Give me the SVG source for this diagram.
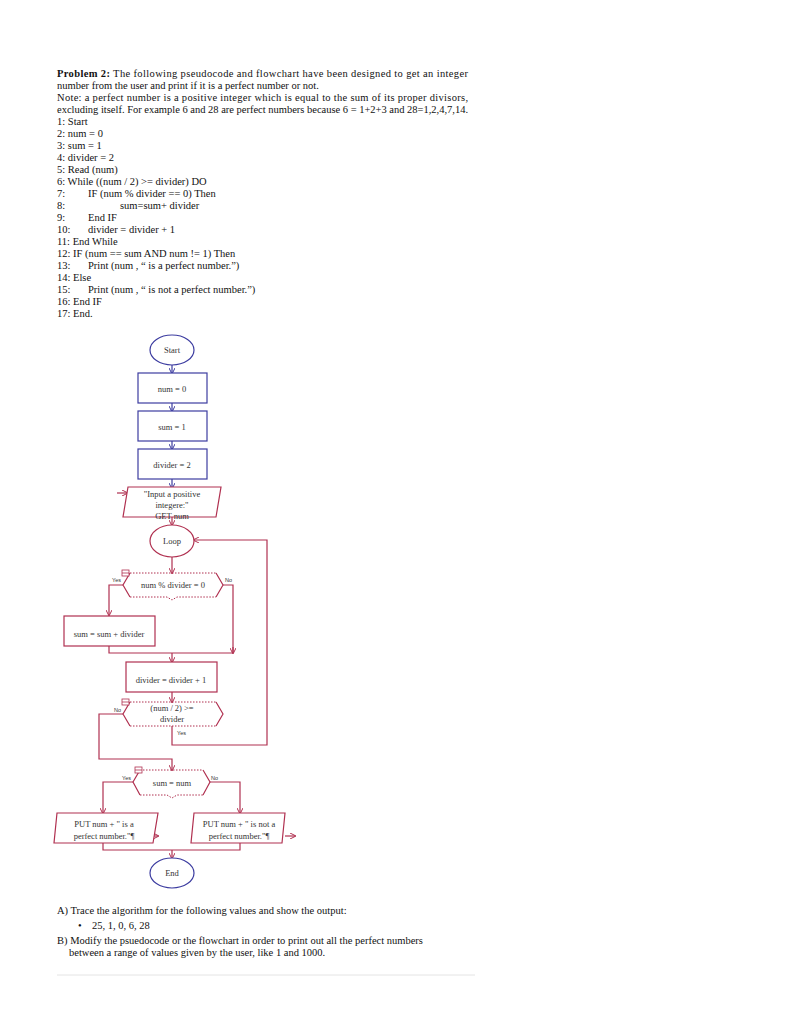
<svg xmlns="http://www.w3.org/2000/svg" width="791" height="1024" viewBox="0 0 791 1024">
<defs>
<marker id="ab" viewBox="0 0 6 6" refX="5" refY="3" markerWidth="5" markerHeight="5" orient="auto"><path d="M0,0L6,3L0,6" fill="none" stroke="#3c3ca0" stroke-width="1"/></marker>
<marker id="ar" viewBox="0 0 6 6" refX="5" refY="3" markerWidth="5" markerHeight="5" orient="auto"><path d="M0,0L6,3L0,6" fill="none" stroke="#b03050" stroke-width="1"/></marker>
</defs>
<style>
.t{font-family:"Liberation Serif",serif;font-size:10.5px;fill:#111}
.b{font-weight:bold}
.f{font-family:"Liberation Serif",serif;font-size:8.5px;fill:#333}
.s{font-family:"Liberation Sans",sans-serif;font-size:5.5px;fill:#333}
.bl{fill:#fff;stroke:#3c3ca0;stroke-width:1.2}
.rd{fill:#fff;stroke:#b03050;stroke-width:1.2}
.dt{fill:none;stroke:#b03050;stroke-width:1;stroke-dasharray:1.5,1.5}
.c{fill:none;stroke:#b03050;stroke-width:1.2}
.cb{fill:none;stroke:#3c3ca0;stroke-width:1.2}
</style>
<rect width="791" height="1024" fill="#fff"/>
<g id="text">
<text class="t" x="57" y="77" textLength="411" lengthAdjust="spacing"><tspan class="b">Problem 2:</tspan> The following pseudocode and flowchart have been designed to get an integer</text>
<text class="t" x="57" y="89">number from the user and print if it is a perfect number or not.</text>
<text class="t" x="57" y="101" textLength="411" lengthAdjust="spacing">Note: a perfect number is a positive integer which is equal to the sum of its proper divisors,</text>
<text class="t" x="57" y="113" textLength="411" lengthAdjust="spacing">excluding itself. For example 6 and 28 are perfect numbers because 6 = 1+2+3 and 28=1,2,4,7,14.</text>
<text class="t" x="57" y="125">1: Start</text>
<text class="t" x="57" y="137">2: num = 0</text>
<text class="t" x="57" y="149">3: sum = 1</text>
<text class="t" x="57" y="161">4: divider = 2</text>
<text class="t" x="57" y="173">5: Read (num)</text>
<text class="t" x="57" y="185">6: While ((num / 2) &gt;= divider) DO</text>
<text class="t" x="57" y="197">7:</text><text class="t" x="88" y="197">IF (num % divider == 0) Then</text>
<text class="t" x="57" y="209">8:</text><text class="t" x="120" y="209">sum=sum+ divider</text>
<text class="t" x="57" y="221">9:</text><text class="t" x="88" y="221">End IF</text>
<text class="t" x="57" y="233">10:</text><text class="t" x="88" y="233">divider = divider + 1</text>
<text class="t" x="57" y="245">11: End While</text>
<text class="t" x="57" y="257">12: IF (num == sum AND num != 1) Then</text>
<text class="t" x="57" y="269">13:</text><text class="t" x="88" y="269">Print (num , “ is a perfect number.”)</text>
<text class="t" x="57" y="281">14: Else</text>
<text class="t" x="57" y="293">15:</text><text class="t" x="88" y="293">Print (num , “ is not a perfect number.”)</text>
<text class="t" x="57" y="305">16: End IF</text>
<text class="t" x="57" y="317">17: End.</text>
<text class="t" x="57" y="914">A) Trace the algorithm for the following values and show the output:</text>
<text class="t" x="78" y="929">•</text><text class="t" x="92" y="929">25,  1, 0, 6, 28</text>
<text class="t" x="57" y="944">B) Modify the psuedocode or the flowchart in order to print out all the perfect numbers</text>
<text class="t" x="69" y="956">between a range of values given by the user, like 1 and 1000.</text>
<line x1="57" y1="975" x2="475" y2="975" stroke="#e4e4e4" stroke-width="1"/>
</g>
<g id="connectors">
<line class="cb" x1="172" y1="365" x2="172" y2="373" marker-end="url(#ab)"/>
<line class="cb" x1="172" y1="403" x2="172" y2="411" marker-end="url(#ab)"/>
<line class="cb" x1="172" y1="441" x2="172" y2="449" marker-end="url(#ab)"/>
<line class="cb" x1="172" y1="479" x2="172" y2="488" marker-end="url(#ab)"/>
<line class="c" x1="117" y1="493" x2="127" y2="493" marker-end="url(#ar)"/>
<line class="c" x1="172" y1="517" x2="172" y2="525" marker-end="url(#ar)"/>
<line class="c" x1="172" y1="557" x2="172" y2="573" marker-end="url(#ar)"/>
<path class="c" d="M123,585H109V615" marker-end="url(#ar)"/>
<path class="c" d="M223,585H233V653"/>
<path class="c" d="M109,646V653H233"/>
<line class="c" x1="233" y1="647" x2="233" y2="653" marker-end="url(#ar)"/>
<line class="c" x1="172" y1="653" x2="172" y2="662" marker-end="url(#ar)"/>
<line class="c" x1="172" y1="692" x2="172" y2="702" marker-end="url(#ar)"/>
<path class="c" d="M172,726V745H267V540H194" marker-end="url(#ar)"/>
<path class="c" d="M123,714H99V759H172V770" marker-end="url(#ar)"/>
<path class="c" d="M133,782H103V813" marker-end="url(#ar)"/>
<path class="c" d="M210,782H240V813" marker-end="url(#ar)"/>
<path class="c" d="M103,843V850H240V843"/>
<line class="c" x1="172" y1="850" x2="172" y2="858" marker-end="url(#ar)"/>
<line class="c" x1="148" y1="836" x2="158" y2="836" marker-end="url(#ar)"/>
<line class="c" x1="285" y1="836" x2="295" y2="836" marker-end="url(#ar)"/>
</g>
<g id="start"><ellipse class="bl" cx="172" cy="350" rx="22" ry="15"/><text class="f" x="172" y="353" text-anchor="middle">Start</text></g>
<g id="n1"><rect class="bl" x="138" y="373" width="69" height="30"/><text class="f" x="172" y="392" text-anchor="middle">num = 0</text></g>
<g id="n2"><rect class="bl" x="138" y="411" width="69" height="30"/><text class="f" x="172" y="430" text-anchor="middle">sum = 1</text></g>
<g id="n3"><rect class="bl" x="138" y="449" width="69" height="30"/><text class="f" x="172" y="468" text-anchor="middle">divider = 2</text></g>
<g id="input"><polygon class="rd" points="128,487 221,487 216,517 123,517"/><text class="f" x="172" y="497" text-anchor="middle">"Input a positive</text><text class="f" x="172" y="508" text-anchor="middle">integere:"</text><text class="f" x="172" y="519" text-anchor="middle">GET num</text></g>
<g id="loop"><ellipse class="rd" cx="172" cy="541" rx="22" ry="16"/><text class="f" x="172" y="544" text-anchor="middle">Loop</text></g>
<g id="d1"><path class="c" d="M130,573L123,585L130,597M216,573L223,585L216,597"/><path class="dt" d="M130,573H216M130,597H167L172,600L177,597H216"/><rect x="122" y="570" width="7" height="6" fill="#fff" stroke="#b03050" stroke-width="0.8"/><line x1="122" y1="573" x2="129" y2="573" stroke="#b03050" stroke-width="0.8"/><text class="f" x="173" y="588" text-anchor="middle">num % divider = 0</text><text class="s" x="112" y="582">Yes</text><text class="s" x="225" y="582">No</text></g>
<g id="n4"><rect class="rd" x="64" y="616" width="91" height="30"/><text class="f" x="109" y="637" text-anchor="middle">sum = sum  +  divider</text></g>
<g id="n5"><rect class="rd" x="126" y="662" width="91" height="30"/><text class="f" x="171" y="683" text-anchor="middle">divider = divider  +  1</text></g>
<g id="d2"><path class="c" d="M130,702L123,714L130,726M216,702L223,714L216,726"/><path class="dt" d="M130,702H216M130,726H216"/><rect x="122" y="699" width="7" height="6" fill="#fff" stroke="#b03050" stroke-width="0.8"/><line x1="122" y1="702" x2="129" y2="702" stroke="#b03050" stroke-width="0.8"/><text class="f" x="172" y="711" text-anchor="middle">(num / 2) &gt;=</text><text class="f" x="172" y="722" text-anchor="middle">divider</text><text class="s" x="114" y="712">No</text><text class="s" x="177" y="735">Yes</text></g>
<g id="d3"><path class="c" d="M140,770L133,782L140,795M203,770L210,782L203,795"/><path class="dt" d="M140,770H203M140,795H167L172,798L177,795H203"/><rect x="135" y="767" width="7" height="6" fill="#fff" stroke="#b03050" stroke-width="0.8"/><line x1="135" y1="770" x2="142" y2="770" stroke="#b03050" stroke-width="0.8"/><text class="f" x="172" y="786" text-anchor="middle">sum = num</text><text class="s" x="122" y="780">Yes</text><text class="s" x="211" y="780">No</text></g>
<g id="p1"><polygon class="rd" points="57,813 158,813 153,843 54,843"/><text class="f" x="104" y="827" text-anchor="middle">PUT num  +  " is a</text><text class="f" x="104" y="839" text-anchor="middle">perfect number."¶</text></g>
<g id="p2"><polygon class="rd" points="194,813 285,813 282,843 191,843"/><text class="f" x="239" y="827" text-anchor="middle">PUT num  +  " is not a</text><text class="f" x="239" y="839" text-anchor="middle">perfect number."¶</text></g>
<g id="end"><ellipse class="bl" cx="172" cy="873" rx="22" ry="15"/><text class="f" x="172" y="876" text-anchor="middle">End</text></g>
</svg>
